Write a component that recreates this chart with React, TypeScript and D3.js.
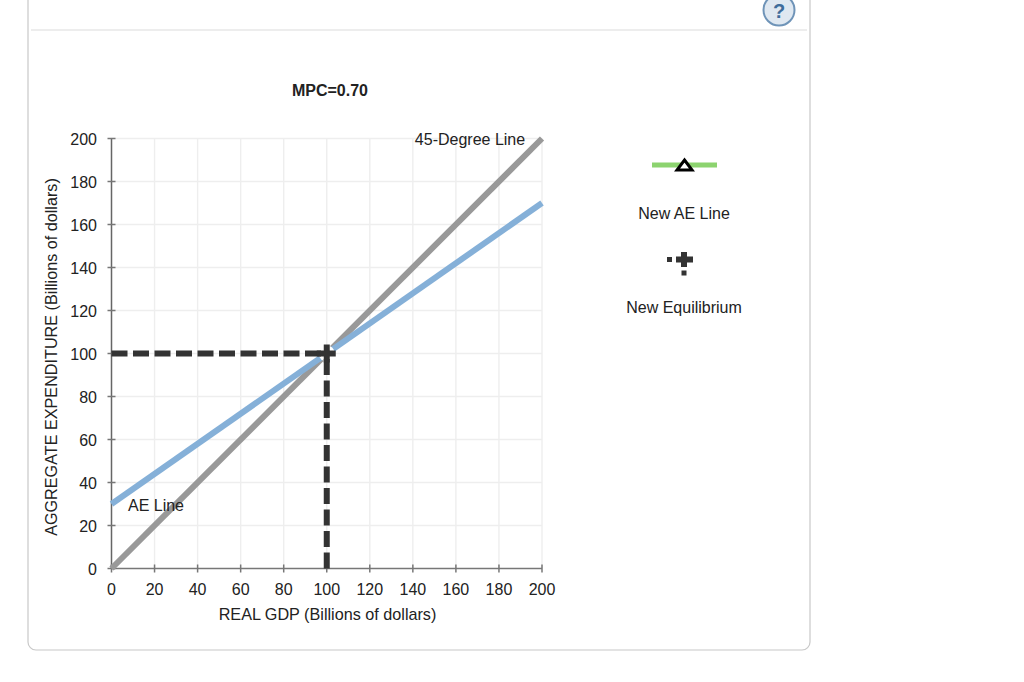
import React from "react";
import * as d3 from "d3";

const xTicks = [0, 20, 40, 60, 80, 100, 120, 140, 160, 180, 200];
const yTicks = [0, 20, 40, 60, 80, 100, 120, 140, 160, 180, 200];
const line45: [number, number][] = [[0, 0], [200, 200]];
const aeLine: [number, number][] = [[0, 30], [200, 170]];
const equilibrium: [number, number] = [100, 100];
const title = "MPC=0.70";
const xTitle = "REAL GDP (Billions of dollars)";
const yTitle = "AGGREGATE EXPENDITURE (Billions of dollars)";

const x = d3.scaleLinear().domain([0, 200]).range([111.5, 542]);
const y = d3.scaleLinear().domain([0, 200]).range([568.5, 138.5]);
const path = d3.line<[number, number]>().x(d => x(d[0])).y(d => y(d[1]));
const font = "Liberation Sans, Arial, sans-serif";

export default function App() {
  const ex = x(equilibrium[0]);
  const ey = y(equilibrium[1]);
  return (
    <svg width={1024} height={682} style={{ position: "absolute", left: 0, top: 0, background: "#fff" }} fontFamily={font} fontSize={16} fill="#222">
      <path d="M28,-20 V642 a8,8 0 0 0 8,8 H802 a8,8 0 0 0 8,-8 V-20" fill="none" stroke="#c8c8c8" strokeWidth={1.2} />
      <line x1={31} x2={807} y1={30} y2={30} stroke="#dcdcdc" strokeWidth={1.2} />
      <circle cx={779} cy={10} r={15.5} fill="#dfe8f1" stroke="#6f94b8" strokeWidth={2} />
      <text x={779} y={18} textAnchor="middle" fontSize={20} fontWeight="bold" fill="#3f6d9c">?</text>

      <text x={330} y={95.5} textAnchor="middle" fontWeight="bold" fontSize={16}>{title}</text>

      {xTicks.slice(1).map(t => <line key={t} x1={x(t)} x2={x(t)} y1={y(200)} y2={y(0)} stroke="#eeeeee" strokeWidth={1.4} />)}
      {yTicks.slice(1).map(t => <line key={t} x1={x(0)} x2={x(200)} y1={y(t)} y2={y(t)} stroke="#eeeeee" strokeWidth={1.4} />)}

      <line x1={x(0)} x2={x(0)} y1={y(200)} y2={y(0)} stroke="#666" strokeWidth={1.5} />
      <line x1={x(0)} x2={x(200)} y1={y(0)} y2={y(0)} stroke="#777" strokeWidth={1.5} />
      {yTicks.map(t => (
        <g key={t}>
          <line x1={x(0) - 4} x2={x(0) + 4} y1={y(t)} y2={y(t)} stroke="#777" strokeWidth={1.5} />
          <text x={97} y={y(t) + 6} textAnchor="end">{t}</text>
        </g>
      ))}
      {xTicks.map(t => (
        <g key={t}>
          <line x1={x(t)} x2={x(t)} y1={y(0) - 4} y2={y(0) + 4} stroke="#777" strokeWidth={1.5} />
          <text x={x(t)} y={595} textAnchor="middle">{t}</text>
        </g>
      ))}
      <text x={327.5} y={619.5} textAnchor="middle" fontSize={16.2}>{xTitle}</text>
      <text transform="translate(57,357) rotate(-90)" textAnchor="middle" fontSize={16.2}>{yTitle}</text>

      <path d={path(line45) ?? ""} stroke="#999999" strokeWidth={6} fill="none" />
      <path d={path(aeLine) ?? ""} stroke="#85b0d8" strokeWidth={6} fill="none" />
      <circle cx={ex} cy={ey} r={8} fill="#fff" />
      <line x1={x(0)} x2={ex} y1={ey} y2={ey} stroke="#333" strokeWidth={6} strokeDasharray="16 5.5" />
      <line x1={ex} x2={ex} y1={y(0)} y2={ey} stroke="#333" strokeWidth={6} strokeDasharray="16 5.5" />
      <path d={`M${ex - 10},${ey}H${ex + 9}M${ex},${ey - 9}V${ey + 9}`} stroke="#333" strokeWidth={6} />

      <text x={470} y={144.5} textAnchor="middle">45-Degree Line</text>
      <text x={156} y={510.5} textAnchor="middle">AE Line</text>

      <line x1={652} x2={717} y1={165} y2={165} stroke="#8cd36f" strokeWidth={5} />
      <path d="M684.5,160 L692,170 H677 Z" fill="#fff" stroke="#000" strokeWidth={3} />
      <text x={684} y={218.5} textAnchor="middle">New AE Line</text>

      <path d="M676,259.5H693M684,252V267" stroke="#333" strokeWidth={6} />
      <rect x={667} y={257} width={5} height={5} fill="#333" />
      <rect x={681.5} y={270.5} width={5} height={5} fill="#333" />
      <text x={684} y={312.5} textAnchor="middle">New Equilibrium</text>
    </svg>
  );
}
